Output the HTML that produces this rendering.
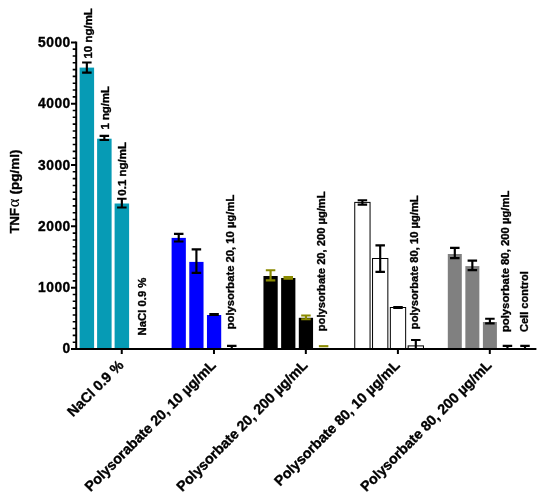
<!DOCTYPE html>
<html lang="en"><head><meta charset="utf-8"><title>TNF alpha chart</title>
<style>html,body{margin:0;padding:0;background:#fff}body{width:550px;height:501px;overflow:hidden}svg{display:block}text{font-family:"Liberation Sans", sans-serif;font-weight:bold;fill:#000;stroke:#000;stroke-width:.35px}</style>
</head><body>
<svg width="550" height="501" viewBox="0 0 550 501">
<rect width="550" height="501" fill="#fff"/>
<rect x="79.60" y="67.60" width="14.50" height="280.90" fill="#069bb5"/>
<path d="M82.10 62.50H91.60M86.85 62.50V72.60M82.10 72.60H91.60" fill="none" stroke="#000" stroke-width="2.15"/>
<rect x="97.10" y="138.70" width="14.50" height="209.80" fill="#069bb5"/>
<path d="M99.60 135.80H109.10M104.35 135.80V140.00M99.60 140.00H109.10" fill="none" stroke="#000" stroke-width="2.15"/>
<rect x="114.60" y="203.50" width="14.50" height="145.00" fill="#069bb5"/>
<path d="M117.10 198.70H126.60M121.85 198.70V207.50M117.10 207.50H126.60" fill="none" stroke="#000" stroke-width="2.15"/>
<rect x="171.60" y="237.90" width="14.25" height="110.60" fill="#0000ff"/>
<path d="M173.97 233.90H183.47M178.72 233.90V241.50M173.97 241.50H183.47" fill="none" stroke="#000" stroke-width="2.15"/>
<rect x="189.28" y="261.90" width="14.25" height="86.60" fill="#0000ff"/>
<path d="M191.66 249.40H201.16M196.41 249.40V272.90M191.66 272.90H201.16" fill="none" stroke="#000" stroke-width="2.15"/>
<rect x="206.96" y="315.00" width="14.25" height="33.50" fill="#0000ff"/>
<path d="M209.33 314.00H218.83M209.33 315.00H218.83" fill="none" stroke="#000" stroke-width="2.15"/>
<path d="M227.01 345.80H236.51M231.76 345.80V348.50" fill="none" stroke="#000" stroke-width="2.15"/>
<rect x="263.45" y="276.00" width="14.25" height="72.50" fill="#000000"/>
<path d="M265.82 270.20H275.32M270.57 270.20V280.40M265.82 280.40H275.32" fill="none" stroke="#8a8a00" stroke-width="2.15"/>
<rect x="281.13" y="278.00" width="14.25" height="70.50" fill="#000000"/>
<path d="M283.50 277.00H293.00M288.25 277.00V278.60M283.50 278.60H293.00" fill="none" stroke="#8a8a00" stroke-width="2.15"/>
<rect x="298.81" y="317.80" width="14.25" height="30.70" fill="#000000"/>
<path d="M301.19 315.50H310.69M305.94 315.50V319.20M301.19 319.20H310.69" fill="none" stroke="#8a8a00" stroke-width="2.15"/>
<path d="M318.87 346.20H328.37" fill="none" stroke="#8a8a00" stroke-width="2.15"/>
<rect x="354.75" y="202.40" width="15.30" height="146.60" fill="#ffffff" stroke="#000" stroke-width="1"/>
<path d="M357.65 200.20H367.15M362.40 200.20V204.60M357.65 204.60H367.15" fill="none" stroke="#000" stroke-width="2.15"/>
<rect x="372.55" y="258.50" width="15.30" height="90.50" fill="#ffffff" stroke="#000" stroke-width="1"/>
<path d="M375.45 245.30H384.95M380.20 245.30V271.80M375.45 271.80H384.95" fill="none" stroke="#000" stroke-width="2.15"/>
<rect x="390.35" y="307.50" width="15.30" height="41.50" fill="#ffffff" stroke="#000" stroke-width="1"/>
<path d="M393.25 307.00H402.75M393.25 307.80H402.75" fill="none" stroke="#000" stroke-width="2.15"/>
<rect x="408.15" y="345.90" width="15.30" height="3.10" fill="#ffffff" stroke="#000" stroke-width="1"/>
<path d="M411.05 340.00H420.55M415.80 340.00V348.50" fill="none" stroke="#000" stroke-width="2.15"/>
<rect x="447.80" y="254.00" width="14.00" height="94.50" fill="#808080"/>
<path d="M450.05 247.90H459.55M454.80 247.90V258.10M450.05 258.10H459.55" fill="none" stroke="#000" stroke-width="2.15"/>
<rect x="465.35" y="266.10" width="14.00" height="82.40" fill="#808080"/>
<path d="M467.60 260.60H477.10M472.35 260.60V270.10M467.60 270.10H477.10" fill="none" stroke="#000" stroke-width="2.15"/>
<rect x="482.90" y="322.00" width="14.00" height="26.50" fill="#808080"/>
<path d="M485.15 318.70H494.65M489.90 318.70V323.30M485.15 323.30H494.65" fill="none" stroke="#000" stroke-width="2.15"/>
<path d="M502.70 345.90H512.20M507.45 345.90V348.50" fill="none" stroke="#000" stroke-width="2.15"/>
<path d="M520.25 345.90H529.75M525.00 345.90V348.50" fill="none" stroke="#000" stroke-width="2.15"/>
<rect x="75.2" y="41.55" width="2" height="308.45" fill="#000"/>
<rect x="75.2" y="348.00" width="461.2" height="2" fill="#000"/>
<path d="M71 349.00H76M71 287.67H76M71 226.34H76M71 165.01H76M71 103.68H76M71 42.55H76" stroke="#000" stroke-width="2" fill="none"/>
<path d="M72.7 342.19H76M72.7 335.37H76M72.7 328.56H76M72.7 321.74H76M72.7 314.93H76M72.7 308.11H76M72.7 301.30H76M72.7 294.48H76M72.7 280.86H76M72.7 274.04H76M72.7 267.23H76M72.7 260.41H76M72.7 253.60H76M72.7 246.78H76M72.7 239.97H76M72.7 233.15H76M72.7 219.53H76M72.7 212.71H76M72.7 205.90H76M72.7 199.08H76M72.7 192.27H76M72.7 185.45H76M72.7 178.64H76M72.7 171.82H76M72.7 158.20H76M72.7 151.38H76M72.7 144.57H76M72.7 137.75H76M72.7 130.94H76M72.7 124.12H76M72.7 117.31H76M72.7 110.49H76M72.7 96.87H76M72.7 90.05H76M72.7 83.24H76M72.7 76.42H76M72.7 69.61H76M72.7 62.79H76M72.7 55.98H76M72.7 49.16H76" stroke="#000" stroke-width="1.6" fill="none"/>
<path d="M121.75 349.5V354M213.98 349.5V354M305.83 349.5V354M397.90 349.5V354M489.80 349.5V354" stroke="#000" stroke-width="2" fill="none"/>
<text x="70.8" y="353.15" font-size="13.8" letter-spacing="0.5" text-anchor="end">0</text>
<text x="70.8" y="292.22" font-size="13.8" letter-spacing="0.5" text-anchor="end">1000</text>
<text x="70.8" y="231.19" font-size="13.8" letter-spacing="0.5" text-anchor="end">2000</text>
<text x="70.8" y="169.86" font-size="13.8" letter-spacing="0.5" text-anchor="end">3000</text>
<text x="70.8" y="108.13" font-size="13.8" letter-spacing="0.5" text-anchor="end">4000</text>
<text x="70.8" y="47.20" font-size="13.8" letter-spacing="0.5" text-anchor="end">5000</text>
<text transform="translate(19.3 233.6) rotate(-90)" font-size="13.5"><tspan letter-spacing="-0.3">TNF</tspan><tspan dx="0.9" font-weight="normal" font-size="16.5" stroke-width="0.15" font-family="&quot;Liberation Serif&quot;,&quot;DejaVu Serif&quot;,serif">α</tspan><tspan dx="0.4"> (pg/ml)</tspan></text>
<text transform="translate(91.6 58.6) rotate(-90)" font-size="11.5">10 ng/mL</text>
<text transform="translate(109.0 129.6) rotate(-90)" font-size="11.4">1 ng/mL</text>
<text transform="translate(126.0 195.7) rotate(-90)" font-size="11.5">0.1 ng/mL</text>
<text transform="translate(146.2 335.4) rotate(-90)" font-size="11.3">NaCl 0.9 %</text>
<text transform="translate(233.5 329.3) rotate(-90)" font-size="11.25">polysorbate 20, 10 µg/mL</text>
<text transform="translate(324.6 331.2) rotate(-90)" font-size="11.17">polysorbate 20, 200 µg/mL</text>
<text transform="translate(418.2 329.2) rotate(-90)" font-size="11.2">polysorbate 80, 10 µg/mL</text>
<text transform="translate(508.8 332.1) rotate(-90)" font-size="11.3">polysorbate 80, 200 µg/mL</text>
<text transform="translate(527.5 332.0) rotate(-90)" font-size="11.05">Cell control</text>
<text transform="translate(124.4 366.1) rotate(-45)" font-size="14.2" text-anchor="end">NaCl 0.9 %</text>
<text transform="translate(216.7 366.1) rotate(-45)" font-size="14.2" text-anchor="end">Polysorabate 20, 10 µg/mL</text>
<text transform="translate(308.5 366.1) rotate(-45)" font-size="14.2" text-anchor="end">Polysorbate 20, 200 µg/mL</text>
<text transform="translate(400.6 366.1) rotate(-45)" font-size="14.2" text-anchor="end">Polysorbate 80, 10 µg/mL</text>
<text transform="translate(492.5 366.1) rotate(-45)" font-size="14.2" text-anchor="end">Polysorbate 80, 200 µg/mL</text>
</svg>
</body></html>
